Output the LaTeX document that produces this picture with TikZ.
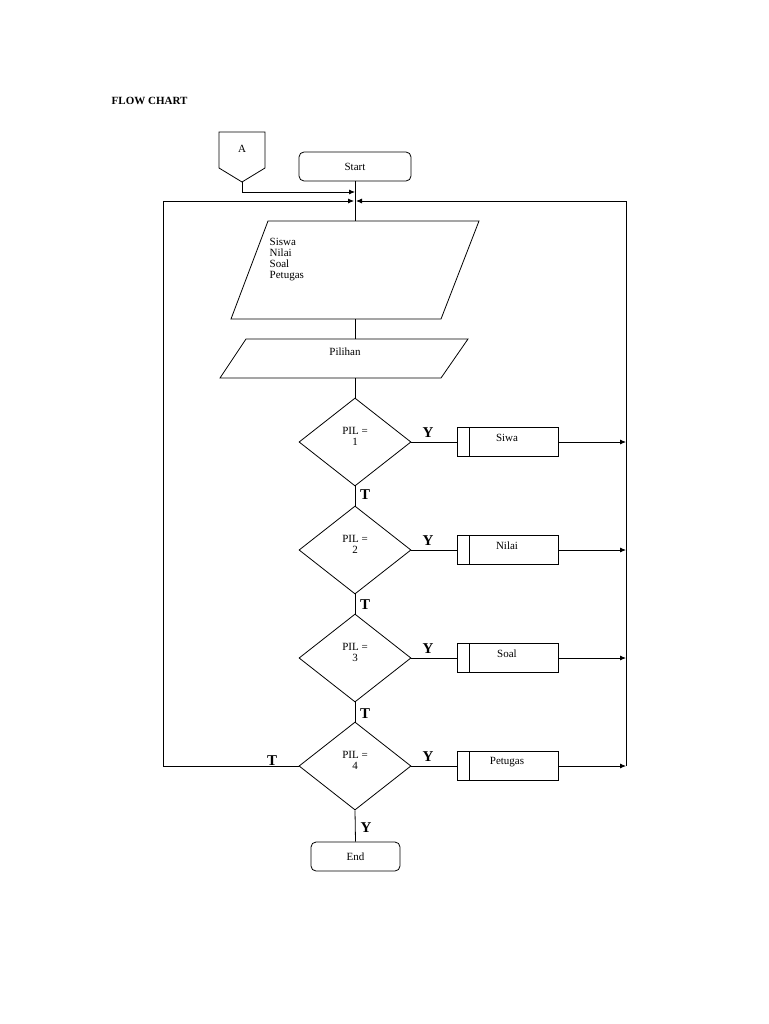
\documentclass[tikz,border=0pt]{standalone}
\usepackage{fontspec}
\setmainfont{Liberation Serif}
\usetikzlibrary{shapes.geometric,arrows.meta}
\begin{document}
\begin{tikzpicture}[x=1pt,y=-1pt,line width=0.8pt,
  txt/.style={font=\fontsize{11}{13}\selectfont},
  lab/.style={font=\fontsize{15}{15}\selectfont\bfseries},
  term/.style={draw,rounded corners=5pt,txt},
  dec/.style={draw,diamond,minimum width=112pt,minimum height=88pt,inner sep=0pt,aspect=1.27,txt,align=center},
  proc/.style={draw,minimum width=101pt,minimum height=29pt,txt},
  arr/.style={-{Latex[length=6pt,width=5pt]}}]
\useasboundingbox (0,0) rectangle (768,1024);
\node[font=\fontsize{11}{13}\selectfont\bfseries,anchor=west] (title) at (108,101) {FLOW CHART};
% connector A
\draw (219,132) -- (265,132) -- (265,168) -- (242,182) -- (219,168) -- cycle;
\node[txt] (A) at (242,149) {A};
\coordinate (Ap) at (242,182);
\node[term,minimum width=112pt,minimum height=29pt] (start) at (355,166.5) {Start};
\coordinate (j1) at (355,192);
\coordinate (j2) at (355,201);
% parallelograms
\draw (268,221) -- (479,221) -- (441,319) -- (231,319) -- cycle;
\node[txt,align=left,anchor=north west] (data) at (266,234) {Siswa\\[-2pt]Nilai\\[-2pt]Soal\\[-2pt]Petugas};
\coordinate (p1t) at (355,221); \coordinate (p1b) at (355,319);
\draw (246,339) -- (468,339) -- (441,378) -- (220,378) -- cycle;
\node[txt] (pil) at (345,352) {Pilihan};
\coordinate (p2t) at (355,339); \coordinate (p2b) at (355,378);
% decisions
\foreach \i/\y/\t in {1/442/Siwa,2/550/Nilai,3/658/Soal,4/766/Petugas}{
  \node[dec] (d\i) at (355,\y) {};
  \node[txt,align=center] at (355,\y-6) {PIL =\\[-2pt]\i};
  \node[proc] (p\i) at (507.5,\y) {};
  \draw (469,\y-14.5) -- (469,\y+14.5);
  \node[txt] at (507,\y-4) {\t};
  \coordinate (r\i) at (626,\y);
  \draw (d\i.east) -- (p\i.west);
  \draw[arr] (p\i.east) -- (r\i);
  \node[lab] at (428,\y-9) {Y};
}
\draw (d1.south) -- (d2.north);
\draw (d2.south) -- (d3.north);
\draw (d3.south) -- (d4.north);
\node[lab] at (365,495) {T};
\node[lab] at (365,605) {T};
\node[lab] at (365,714) {T};
\node[lab] at (272,761) {T};
\node[lab] at (366,828) {Y};
\node[term,minimum width=89pt,minimum height=29pt] (end) at (355.5,856.5) {End};
% connections
\draw (start.south) -- (p1t);
\draw[arr] (Ap) |- (j1);
\draw[arr] (d4.west) -- (163,766) -- (163,201) -- ([xshift=-1pt]j2);
\draw[arr] (r4) -- (626,201) -- ([xshift=1pt]j2);
\draw (p1b) -- (p2t);
\draw (p2b) -- (d1.north);
\draw (d4.south) -- (end.north);
\end{tikzpicture}
\end{document}
